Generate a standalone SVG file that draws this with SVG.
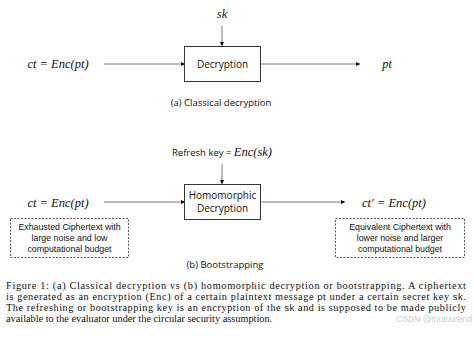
<svg xmlns="http://www.w3.org/2000/svg" width="474" height="346" viewBox="0 0 474 346">
<defs>
<marker id="ah" viewBox="0 0 6 6" refX="6" refY="3" markerWidth="4" markerHeight="4" orient="auto" markerUnits="userSpaceOnUse">
<path d="M0,0 L6,3 L0,6 z" fill="#000"/>
</marker>
<style>
.math{font-family:"Liberation Serif",serif;font-style:italic;font-size:12.5px;fill:#111}
.lbl{font-family:"Open Sans","Liberation Sans",sans-serif;font-size:10px;fill:#111}
.note{font-family:"Liberation Sans",sans-serif;font-size:8.8px;fill:#111}
.box{fill:#fff;stroke:#333;stroke-width:1}
.dash{fill:none;stroke:#555;stroke-width:1;stroke-dasharray:2,1.5}
.conn{stroke:#555;stroke-width:0.8;fill:none;marker-end:url(#ah)}
.cap{font-family:"Liberation Serif",serif;font-size:10.3px;fill:#111}
.sub{font-family:"Open Sans","Liberation Sans",sans-serif;font-size:9.5px;fill:#111}
</style>
</defs>
<rect width="474" height="346" fill="#fff"/>
<g id="connectors">
<line class="conn" x1="222" y1="26" x2="222" y2="46"/>
<line class="conn" x1="104" y1="64" x2="185" y2="64"/>
<line class="conn" x1="261" y1="64" x2="360" y2="64"/>
<line class="conn" x1="222" y1="164" x2="222" y2="184"/>
<line class="conn" x1="104" y1="202" x2="185" y2="202"/>
<line class="conn" x1="261" y1="202" x2="345" y2="202"/>
</g>
<g id="sk"><text class="math" x="222" y="18" text-anchor="middle">sk</text></g>
<g id="ct-a"><text class="math" x="58" y="68" text-anchor="middle">ct = Enc(pt)</text></g>
<g id="decryption">
<rect class="box" x="184.5" y="46.5" width="76" height="35"/>
<text class="lbl" x="222.5" y="68" text-anchor="middle">Decryption</text>
</g>
<g id="pt"><text class="math" x="387" y="68" text-anchor="middle">pt</text></g>
<g id="label-a"><text class="sub" x="221" y="106" text-anchor="middle">(a) Classical decryption</text></g>
<g id="refresh-key">
<text x="222" y="156" text-anchor="middle"><tspan class="sub">Refresh key = </tspan><tspan class="math">Enc(sk)</tspan></text>
</g>
<g id="ct-b"><text class="math" x="58" y="207" text-anchor="middle">ct = Enc(pt)</text></g>
<g id="homomorphic">
<rect class="box" x="184.5" y="184.5" width="76" height="35"/>
<text class="lbl" x="222.5" y="199" text-anchor="middle">Homomorphic</text>
<text class="lbl" x="222.5" y="212" text-anchor="middle">Decryption</text>
</g>
<g id="ct-prime"><text class="math" x="394" y="207" text-anchor="middle">ct′ = Enc(pt)</text></g>
<g id="exhausted">
<rect class="dash" x="10.5" y="218.5" width="118" height="39"/>
<text class="note" x="69.5" y="230" text-anchor="middle">Exhausted Ciphertext with</text>
<text class="note" x="69.5" y="241" text-anchor="middle">large noise and low</text>
<text class="note" x="69.5" y="252" text-anchor="middle">computational budget</text>
</g>
<g id="equivalent">
<rect class="dash" x="335.5" y="218.5" width="129" height="39"/>
<text class="note" x="400" y="230" text-anchor="middle">Equivalent Ciphertext with</text>
<text class="note" x="400" y="241" text-anchor="middle">lower noise and larger</text>
<text class="note" x="400" y="252" text-anchor="middle">computational budget</text>
</g>
<g id="label-b"><text class="sub" x="225" y="268" text-anchor="middle">(b) Bootstrapping</text></g>
<g id="caption">
<text class="cap" x="6" y="289" textLength="460" lengthAdjust="spacing">Figure 1: (a) Classical decryption vs (b) homomorphic decryption or bootstrapping. A ciphertext</text>
<text class="cap" x="6" y="300" textLength="460" lengthAdjust="spacing">is generated as an encryption (Enc) of a certain plaintext message <tspan font-family="Liberation Sans,sans-serif" font-size="9.5">pt</tspan> under a certain secret key <tspan font-family="Liberation Sans,sans-serif" font-size="9.5">sk</tspan>.</text>
<text class="cap" x="6" y="311" textLength="460" lengthAdjust="spacing">The refreshing or bootstrapping key is an encryption of the <tspan font-family="Liberation Sans,sans-serif" font-size="9.5">sk</tspan> and is supposed to be made publicly</text>
<text class="cap" x="6" y="322">available to the evaluator under the circular security assumption.</text>
</g>
<g id="watermark"><text x="472" y="322" text-anchor="end" font-family="Liberation Sans,sans-serif" font-size="8.5" fill="#ccc">CSDN @mutourend</text></g>
</svg>
